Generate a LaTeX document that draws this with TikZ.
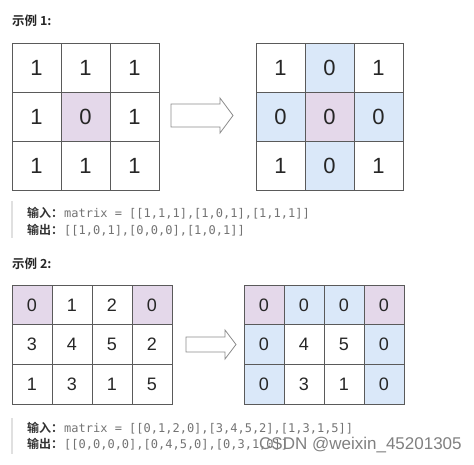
\documentclass[tikz,border=0pt]{standalone}
\usepackage{fontspec}
\setsansfont{Liberation Sans}
\setmonofont{DejaVu Sans Mono}
\newfontfamily\cjk{Noto Sans CJK SC}[BoldFont={Noto Sans CJK SC Bold}]
\usepackage{xcolor}
\usepackage{tikz}
\definecolor{lilac}{RGB}{228,216,234}
\definecolor{skyb}{RGB}{218,232,249}
\definecolor{gridc}{RGB}{90,90,90}

\begin{document}
\begin{tikzpicture}[x=1pt, y=-1pt,
	cell/.style={rectangle, draw=gridc, line width=0.8pt, inner sep=0pt, font=\sffamily, text=black!85},
	cw/.style={fill=white}, cp/.style={fill=lilac}, cb/.style={fill=skyb},
	big/.style={cell, minimum width=49pt, minimum height=49pt, font=\sffamily\fontsize{22}{24}\selectfont},
	small/.style={cell, minimum width=40pt, minimum height=39.7pt, font=\sffamily\fontsize{18}{20}\selectfont},
	title/.style={anchor=base west, inner sep=0pt, font=\cjk\bfseries\fontsize{12.5}{14}\selectfont, text=black!85},
	lab/.style={anchor=base west, inner sep=0pt, font=\cjk\bfseries\fontsize{12}{14}\selectfont, text=black!80},
	codetxt/.style={anchor=base west, inner sep=0pt, font=\ttfamily\fontsize{12}{14}\selectfont, text=black!55},
	blockarrow/.style={draw=black!45, line width=0.8pt, fill=white},
	bar/.style={draw=black!12, line width=2pt}]
	\useasboundingbox (0,0) rectangle (474,464);

	\node[title] (titleA) at (12,25) {示例 1:};
	\foreach \row [count=\r, evaluate=\r as \yy using {43+49*(\r-0.5)}] in {{1/cw,1/cw,1/cw},{1/cw,0/cp,1/cw},{1/cw,1/cw,1/cw}}
	{
		\foreach \v/\f [count=\c, evaluate=\c as \xx using {12+49*(\c-0.5)}] in \row
			\node[big, \f] (a\r\c) at (\xx,\yy) {\v};
	}
	\foreach \row [count=\r, evaluate=\r as \yy using {43+49*(\r-0.5)}] in {{1/cw,0/cb,1/cw},{0/cb,0/cp,0/cb},{1/cw,0/cb,1/cw}}
	{
		\foreach \v/\f [count=\c, evaluate=\c as \xx using {256+49*(\c-0.5)}] in \row
			\node[big, \f] (b\r\c) at (\xx,\yy) {\v};
	}
	\draw[blockarrow] (171,104) -- (220,104) -- (220,98) -- (233,115.5) -- (220,133) -- (220,127) -- (171,127) -- cycle;
	\draw[bar] (12,201) -- (12,238);
	\node[lab] (inA) at (27,217) {输入：};
	\node[codetxt] (inAcode) at (64,217) {matrix = [[1,1,1],[1,0,1],[1,1,1]]};
	\node[lab] (outA) at (27,234) {输出：};
	\node[codetxt] (outAcode) at (64,234) {[[1,0,1],[0,0,0],[1,0,1]]};

	\node[title] (titleB) at (12,268) {示例 2:};
	\foreach \row [count=\r, evaluate=\r as \yy using {285+39.7*(\r-0.5)}] in {{0/cp,1/cw,2/cw,0/cp},{3/cw,4/cw,5/cw,2/cw},{1/cw,3/cw,1/cw,5/cw}}
	{
		\foreach \v/\f [count=\c, evaluate=\c as \xx using {12+40*(\c-0.5)}] in \row
			\node[small, \f] (c\r\c) at (\xx,\yy) {\v};
	}
	\foreach \row [count=\r, evaluate=\r as \yy using {285+39.7*(\r-0.5)}] in {{0/cp,0/cb,0/cb,0/cp},{0/cb,4/cw,5/cw,0/cb},{0/cb,3/cw,1/cw,0/cb}}
	{
		\foreach \v/\f [count=\c, evaluate=\c as \xx using {244+40*(\c-0.5)}] in \row
			\node[small, \f] (d\r\c) at (\xx,\yy) {\v};
	}
	\draw[blockarrow] (186,337) -- (225,337) -- (225,330) -- (236,344.5) -- (225,359) -- (225,352) -- (186,352) -- cycle;
	\draw[bar] (12,418) -- (12,454);
	\node[lab] (inB) at (27,432) {输入：};
	\node[codetxt] (inBcode) at (64,432) {matrix = [[0,1,2,0],[3,4,5,2],[1,3,1,5]]};
	\node[lab] (outB) at (27,448) {输出：};
	\node[codetxt] (outBcode) at (64,448) {[[0,0,0,0],[0,4,5,0],[0,3,1,0]]};
	\node[anchor=base west, inner sep=0pt, font=\sffamily\fontsize{17}{19}\selectfont, text=black!50] (mark) at (259,449.5) {CSDN @weixin\_45201305};
\end{tikzpicture}
\end{document}
